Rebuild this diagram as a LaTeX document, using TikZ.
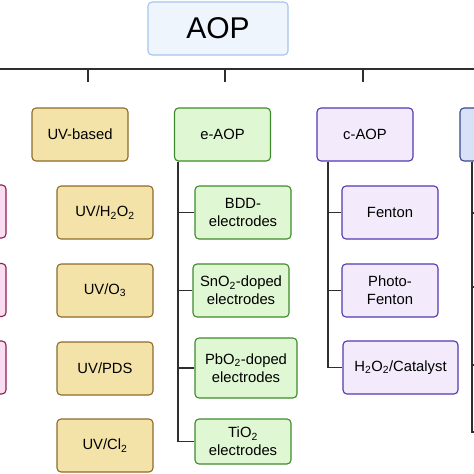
\documentclass[tikz,border=0pt]{standalone}
\usepackage{fontspec}
\setmainfont{Liberation Sans}
\usetikzlibrary{positioning}
\usetikzlibrary{shapes}
\usetikzlibrary{arrows.meta}

\definecolor{aopfill}{HTML}{EEF5FC}
\definecolor{aopline}{HTML}{A8C4EE}
\definecolor{uvfill}{HTML}{F4E3A8}
\definecolor{uvline}{HTML}{8E6B2A}
\definecolor{efill}{HTML}{DFF7D2}
\definecolor{eline}{HTML}{3F8A2C}
\definecolor{cfill}{HTML}{F3EBFC}
\definecolor{cline}{HTML}{5338B0}
\definecolor{xfill}{HTML}{D7E2F8}
\definecolor{xline}{HTML}{38478F}
\definecolor{pfill}{HTML}{FBDDF2}
\definecolor{pline}{HTML}{8A1F55}
\definecolor{linegray}{HTML}{2E2E2E}

\tikzset{
  box/.style={draw, rounded corners=4pt, line width=1.1pt, minimum width=96pt,
              minimum height=53pt, align=center, inner sep=1pt,
              font=\fontsize{14.8}{18}\selectfont},
  uvbox/.style={box, draw=uvline, fill=uvfill},
  ebox/.style={box, draw=eline, fill=efill},
  cbox/.style={box, draw=cline, fill=cfill},
  conn/.style={draw=linegray, line width=1.3pt},
  tick/.style={draw=linegray, line width=2pt}
}

\begin{document}
\begin{tikzpicture}[x=1pt, y=-1pt]
\useasboundingbox (0,0) rectangle (474,474);
\clip (0,0) rectangle (474,474);

\begin{scope}
  \node[box, draw=aopline, fill=aopfill, minimum width=140pt,
        font=\fontsize{30}{36}\selectfont] (aop) at (218, 28.5) {AOP};
\end{scope}

% column heads
\begin{scope}
  \node[uvbox] (uv) at (80, 134.5) {UV-based};
  \node[ebox] (eaop) at (222.5, 134.5) {e-AOP};
  \node[cbox] (caop) at (365, 134.5) {c-AOP};
  \node[box, draw=xline, fill=xfill] (xhead) at (508, 134.5) {};
\end{scope}

% left column, cut off
\begin{scope}[every node/.style={box, draw=pline, fill=pfill}]
  \node (p1) at (-42, 211.5) {};
  \node (p2) at (-42, 290) {};
  \node (p3) at (-42, 367.5) {};
\end{scope}

\begin{scope}[every node/.style={uvbox}]
  \node (uv1) at (105, 212.5) {UV/H\textsubscript{2}O\textsubscript{2}};
  \node (uv2) at (105, 290.5) {UV/O\textsubscript{3}};
  \node (uv3) at (105, 368.5) {UV/PDS};
  \node (uv4) at (105, 445.5) {UV/Cl\textsubscript{2}};
\end{scope}

\begin{scope}[every node/.style={ebox}]
  \node (e1) at (243, 212.5) {BDD-\\electrodes};
  \node (e2) at (241, 290.5) {SnO\textsubscript{2}-doped\\electrodes};
  \node[minimum width=102pt, minimum height=60pt] (e3) at (246, 368) {PbO\textsubscript{2}-doped\\electrodes};
  \node[minimum height=45pt] (e4) at (243, 441.5) {TiO\textsubscript{2}\\electrodes};
\end{scope}

\begin{scope}[every node/.style={cbox}]
  \node (c1) at (390, 212.5) {Fenton};
  \node (c2) at (390, 290.5) {Photo-\\Fenton};
  \node[minimum width=115pt] (c3) at (400.5, 367.5) {H\textsubscript{2}O\textsubscript{2}/Catalyst};
\end{scope}

\begin{scope}
  \coordinate (barl) at (-5, 69);
  \coordinate (barr) at (480, 69);
  \coordinate (etop) at ([xshift=-44.5pt]eaop.south);
  \coordinate (ctop) at ([xshift=-37pt]caop.south);
  \coordinate (xtop) at ([xshift=-36pt]xhead.south);
  \coordinate (x1) at (480, 213);
  \coordinate (x2) at (480, 287);
  \coordinate (x3) at (480, 365);
  \coordinate (x4) at (480, 432);
\end{scope}

\begin{scope}
  \draw[conn] (barl) -- (barr);
  \draw[tick] ([xshift=8pt]uv.north |- barl) -- ++(0,13);
  \draw[tick] ([xshift=2.5pt]eaop.north |- barl) -- ++(0,13);
  \draw[tick] ([xshift=-2pt]caop.north |- barl) -- ++(0,13);

  \foreach \n in {e1,e2,e3,e4}
    \draw[conn] (etop) |- (\n.west);
  \foreach \n in {c1,c2,c3}
    \draw[conn] (ctop) |- (\n.west);
  \foreach \n in {x1,x2,x3,x4}
    \draw[conn] (xtop) |- (\n);
\end{scope}
\end{tikzpicture}
\end{document}
